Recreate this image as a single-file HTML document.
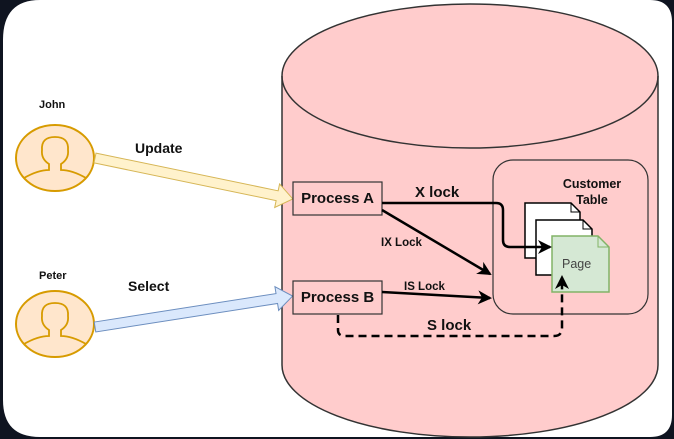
<!DOCTYPE html>
<html><head><style>
html,body{margin:0;padding:0;background:#0f1420;}
svg{display:block;}
text{font-family:"Liberation Sans",Arial,sans-serif;font-weight:bold;fill:#111;}
</style></head><body>
<svg width="674" height="439" viewBox="0 0 674 439" xmlns="http://www.w3.org/2000/svg">
<defs>
<marker id="ah2" markerWidth="14" markerHeight="14" refX="12" refY="7" orient="auto" markerUnits="userSpaceOnUse">
<path d="M0,0 L14,7 L0,14 L4,7 Z" fill="#000"/>
</marker>
</defs>
<rect x="0" y="0" width="674" height="439" fill="#0f1420"/>
<path d="M40,0 H650 Q672,0 672,22 V415 Q672,437 650,437 H40 Q3,437 3,400 V40 Q3,0 40,0 Z" fill="#fff"/>

<path d="M282,76 A188,72 0 0 1 658,76 V365 A188,72 0 0 1 282,365 Z" fill="#ffcccc" stroke="#333" stroke-width="1.5"/>
<path d="M282,76 A188,72 0 0 0 658,76" fill="none" stroke="#333" stroke-width="1.5"/>

<g stroke="#d79b00" stroke-width="2" fill="#ffe6cc">
<ellipse cx="55" cy="158" rx="39" ry="33"/>
<ellipse cx="55" cy="324" rx="39" ry="33"/>
</g>
<g fill="none" stroke="#d79b00" stroke-width="1.8">
<path d="M24,178 Q38,170 49,170 L49,164 Q41,159 42,150 Q41,137 55,137 Q69,137 68,150 Q69,159 61,164 L61,170 Q72,170 86,178"/>
<path d="M24,344 Q38,336 49,336 L49,330 Q41,325 42,316 Q41,303 55,303 Q69,303 68,316 Q69,325 61,330 L61,336 Q72,336 86,344"/>
</g>
<text x="39" y="108" font-size="11">John</text>
<text x="39" y="279" font-size="11">Peter</text>

<g transform="translate(95,158) rotate(11.7)">
<path d="M0,-5 H186 V-12 L202,0 L186,12 V5 H0 Z" fill="#fff2cc" stroke="#d6b656" stroke-width="1"/>
</g>
<g transform="translate(95,327) rotate(-8.9)">
<path d="M0,-5 H184 V-12 L200,0 L184,12 V5 H0 Z" fill="#dae8fc" stroke="#6c8ebf" stroke-width="1"/>
</g>
<text x="135" y="153" font-size="14">Update</text>
<text x="128" y="291" font-size="14">Select</text>

<rect x="293" y="182" width="89" height="33" fill="#ffcccc" stroke="#333" stroke-width="1.2"/>
<rect x="293" y="281" width="89" height="33" fill="#ffcccc" stroke="#333" stroke-width="1.2"/>
<text x="337.5" y="203" font-size="15" text-anchor="middle">Process A</text>
<text x="337.5" y="302" font-size="15" text-anchor="middle">Process B</text>

<rect x="493" y="160" width="155" height="154" rx="20" fill="#ffcccc" stroke="#333" stroke-width="1.2"/>
<text x="592" y="188" font-size="12.5" text-anchor="middle">Customer</text>
<text x="592" y="204" font-size="12.5" text-anchor="middle">Table</text>

<path d="M525,203 H571 L580,212 V258 H525 Z" fill="#fff" stroke="#000" stroke-width="1.5"/>
<path d="M571,203 V212 H580" fill="none" stroke="#000" stroke-width="1"/>
<path d="M536,220 H583 L592,229 V275 H536 Z" fill="#fff" stroke="#000" stroke-width="1.5"/>
<path d="M583,220 V229 H592" fill="none" stroke="#000" stroke-width="1"/>
<path d="M552,236 H598 L609,247 V292 H552 Z" fill="#d5e8d4" stroke="#82b366" stroke-width="1.5"/>
<path d="M598,236 V247 H609" fill="none" stroke="#82b366" stroke-width="1"/>
<text x="562" y="268" font-size="12.5" style="font-weight:normal;fill:#444">Page</text>

<path d="M382,203 H496 Q503,203 503,210 V240 Q503,247 510,247 H550" fill="none" stroke="#000" stroke-width="2.5" marker-end="url(#ah2)"/>
<path d="M382,210 L490,274" fill="none" stroke="#000" stroke-width="2.5" marker-end="url(#ah2)"/>
<path d="M382,292 L490,298" fill="none" stroke="#000" stroke-width="2.5" marker-end="url(#ah2)"/>
<path d="M338,315 V330 Q338,336 345,336 H554 Q562,336 562,328 V277" fill="none" stroke="#000" stroke-width="2.5" stroke-dasharray="8,5" marker-end="url(#ah2)"/>

<text x="415" y="197" font-size="15">X lock</text>
<text x="381" y="246" font-size="11.5">IX Lock</text>
<text x="404" y="290" font-size="11.5">IS Lock</text>
<text x="427" y="330" font-size="15">S lock</text>
</svg>
</body></html>
